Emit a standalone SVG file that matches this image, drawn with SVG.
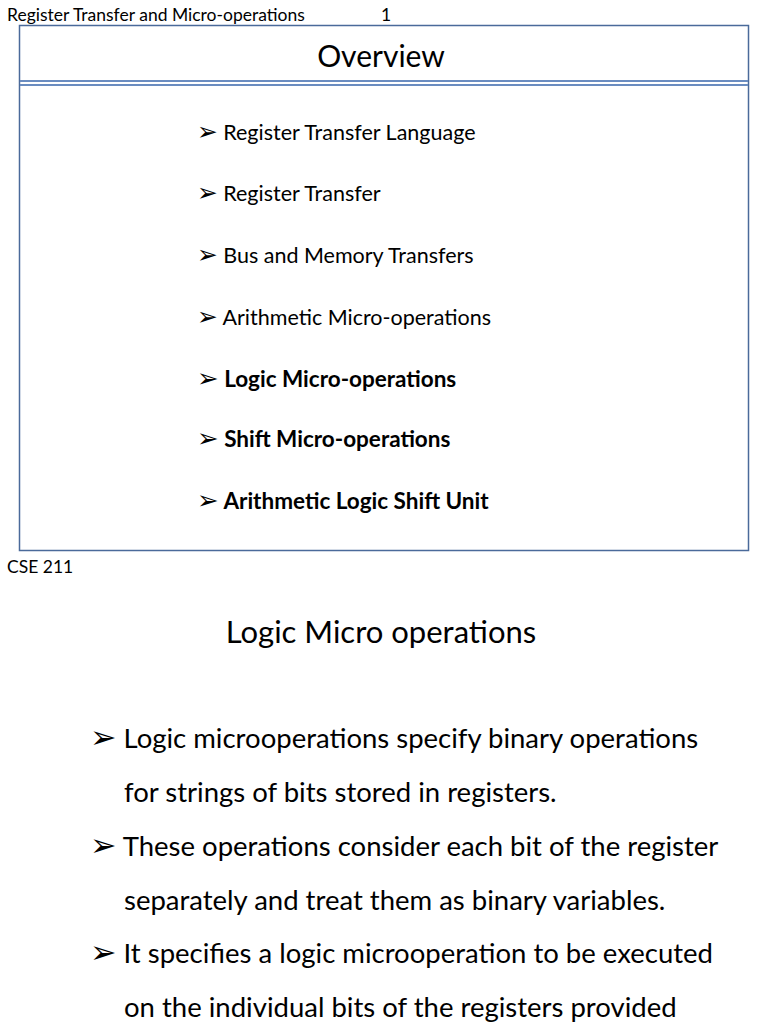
<svg xmlns="http://www.w3.org/2000/svg" width="768" height="1024" viewBox="0 0 768 1024">
<style>
text{font-family:Lato,"Open Sans","DejaVu Sans",sans-serif;fill:#000}
.s{font-size:17.5px}
.b{font-size:21.5px}
.bb{font-size:22.5px;font-weight:bold}
.t{font-size:30px}
.t2{font-size:31px}
.p{font-size:27.5px}
.ar{font-family:"DejaVu Sans",sans-serif;font-size:1.15em}
</style>
<rect width="768" height="1024" fill="#fff"/>
<text class="s" x="7" y="21">Register Transfer and Micro-operations</text>
<text class="s" x="381" y="21">1</text>
<rect x="19.5" y="25.5" width="729" height="525" fill="none" stroke="#4a6a9a" stroke-width="1.5"/>
<text class="t" x="381" y="67" text-anchor="middle">Overview</text>
<line x1="20" y1="81" x2="748" y2="81" stroke="#6a8cc0" stroke-width="2"/>
<line x1="20" y1="85" x2="748" y2="85" stroke="#6a8cc0" stroke-width="2"/>
<g>
<text class="b" x="197" y="140"><tspan class="ar">➢</tspan> Register Transfer Language</text>
<text class="b" x="197" y="201"><tspan class="ar">➢</tspan> Register Transfer</text>
<text class="b" x="197" y="263"><tspan class="ar">➢</tspan> Bus and Memory Transfers</text>
<text class="b" x="197" y="325"><tspan class="ar">➢</tspan> Arithmetic Micro-operations</text>
<text class="bb" x="197" y="387"><tspan class="ar">➢</tspan> Logic Micro-operations</text>
<text class="bb" x="197" y="447"><tspan class="ar">➢</tspan> Shift Micro-operations</text>
<text class="bb" x="197" y="509"><tspan class="ar">➢</tspan> Arithmetic Logic Shift Unit</text>
</g>
<text class="s" x="7" y="573">CSE 211</text>
<text class="t2" x="381" y="643" text-anchor="middle">Logic Micro operations</text>
<text class="p" x="90" y="748"><tspan class="ar">➢</tspan> Logic microoperations specify binary operations</text>
<text class="p" x="124" y="802">for strings of bits stored in registers.</text>
<text class="p" x="90" y="856"><tspan class="ar">➢</tspan> These operations consider each bit of the register</text>
<text class="p" x="124" y="910">separately and treat them as binary variables.</text>
<text class="p" x="90" y="963"><tspan class="ar">➢</tspan> It specifies a logic microoperation to be executed</text>
<text class="p" x="124" y="1017">on the individual bits of the registers provided</text>
</svg>
